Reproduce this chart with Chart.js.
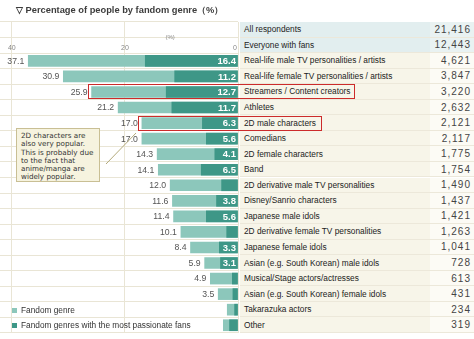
<!DOCTYPE html>
<html>
<head>
<meta charset="utf-8">
<script src="https://cdn.jsdelivr.net/npm/chart.js@4"></script>
<style>
  html, body { margin: 0; padding: 0; background: #fff; }
  #wrap { position: relative; width: 474px; height: 339px; overflow: hidden; font-family: "Liberation Sans", Arial, sans-serif; }
  #chart { position: absolute; left: 0; top: 0; }
  .title { position: absolute; left: 16px; top: 4px; font-weight: bold; font-size: 9.3px; color: #3c3c3c; white-space: nowrap; }
  .row { position: absolute; left: 240px; width: 234px; box-sizing: border-box; border-bottom: 1px solid #ece8da; }
  .row .lab { position: absolute; left: 0; top: 0; bottom: 0; width: 190px; padding-left: 4px; box-sizing: border-box; font-size: 8.3px; color: #222; display: flex; align-items: center; white-space: nowrap; }
  .row .num { position: absolute; left: 190px; top: 0; bottom: 0; width: 44px; padding-right: 3px; box-sizing: border-box; font-size: 10px; letter-spacing: 1px; color: #444; display: flex; align-items: center; justify-content: flex-end; }
  .tick { position: absolute; font-size: 7px; color: #888; transform: translate(-50%, -50%); }
  .note { position: absolute; left: 16px; top: 128px; width: 84px; height: 54px; box-sizing: border-box; background: #f6f3df; border: 1px solid #c9bf94; padding: 3px 0 0 4px; font-family: "DejaVu Sans", Verdana, sans-serif; font-size: 7.2px; line-height: 8.3px; color: #333; }
  .redbox { position: absolute; border: 1.5px solid #cc2b2b; box-sizing: border-box; }
  .leg { position: absolute; left: 12px; font-size: 8.3px; color: #333; white-space: nowrap; }
  .leg i { display: inline-block; width: 5px; height: 5px; margin-right: 4px; vertical-align: 0px; }
</style>
</head>
<body>
<div id="wrap">
  <canvas id="chart" width="240" height="339"></canvas>
  <div class="title">▽ Percentage of people by fandom genre（%）</div>
</div>
<script>
const genres = [
  'All respondents',
  'Everyone with fans',
  'Real-life male TV personalities / artists',
  'Real-life female TV personalities / artists',
  'Streamers / Content creators',
  'Athletes',
  '2D male characters',
  'Comedians',
  '2D female characters',
  'Band',
  '2D derivative male TV personalities',
  'Disney/Sanrio characters',
  'Japanese male idols',
  '2D derivative female TV personalities',
  'Japanese female idols',
  'Asian (e.g. South Korean) male idols',
  'Musical/Stage actors/actresses',
  'Asian (e.g. South Korean) female idols',
  'Takarazuka actors',
  'Other'
];
const respondents = [21416, 12443, 4621, 3847, 3220, 2632, 2121, 2117, 1775, 1754, 1490, 1437, 1421, 1263, 1041, 728, 613, 431, 234, 319];
const fandomPct = [null, null, 37.1, 30.9, 25.9, 21.2, 17.0, 17.0, 14.3, 14.1, 12.0, 11.6, 11.4, 10.1, 8.4, 5.9, 4.9, 3.5, 1.9, 2.6];
const passionatePct = [null, null, 16.4, 11.2, 12.7, 11.7, 6.3, 5.6, 4.1, 6.5, 2.9, 3.8, 5.6, 2.0, 3.3, 3.1, 1.0, 0.9, 0.6, 1.5];
const xTicks = [40, 20, 0];
const highlighted = ['Streamers / Content creators', '2D male characters'];
const noteText = ['2D characters are', 'also very popular.', 'This is probably due', 'to the fact that', 'anime/manga are', 'widely popular.'];

const LIGHT = '#8cc7bb';
const DARK = '#3e9787';
const GRID = '#e9e5d5';

// value labels: total left of the light bar, passionate share in white inside the dark bar
const valueLabels = {
  id: 'valueLabels',
  afterDatasetsDraw(chart) {
    const ctx = chart.ctx;
    const dark = chart.getDatasetMeta(0).data;
    const light = chart.getDatasetMeta(1).data;
    ctx.save();
    ctx.textBaseline = 'middle';
    ctx.textAlign = 'right';
    fandomPct.forEach((v, i) => {
      if (v == null || v < 3) return;
      ctx.font = '8.7px "Liberation Sans", Arial, sans-serif';
      ctx.fillStyle = '#555';
      ctx.fillText(v.toFixed(1), light[i].x - 4, light[i].y + 0.5);
      const p = passionatePct[i];
      if (p >= 3) {
        ctx.font = 'bold 9.5px "Liberation Sans", Arial, sans-serif';
        ctx.fillStyle = '#fff';
        ctx.fillText(p.toFixed(1), dark[i].base - 1.5, dark[i].y + 0.5);
      }
    });
    ctx.restore();
  }
};

const chart = new Chart(document.getElementById('chart'), {
  type: 'bar',
  data: {
    labels: genres,
    datasets: [
      { label: 'Fandom genres with the most passionate fans', data: passionatePct, backgroundColor: DARK, order: 1, grouped: false, barThickness: 11 },
      { label: 'Fandom genre', data: fandomPct, backgroundColor: LIGHT, order: 2, grouped: false, barThickness: 11 }
    ]
  },
  options: {
    indexAxis: 'y',
    responsive: false,
    animation: false,
    devicePixelRatio: 1,
    layout: { padding: { top: 22, bottom: 6, left: 0, right: 2 } },
    plugins: { legend: { display: false }, tooltip: { enabled: false } },
    scales: {
      x: {
        reverse: true, min: 0, max: 42.1, position: 'top',
        afterBuildTicks: s => { s.ticks = xTicks.map(v => ({ value: v })); },
        ticks: { display: false },
        grid: { color: GRID, drawTicks: false },
        border: { display: false }
      },
      y: {
        ticks: { display: false },
        grid: { color: GRID, drawTicks: false, offset: true },
        border: { display: false }
      }
    }
  },
  plugins: [valueLabels]
});

// html overlay: table, ticks, note, highlights, legend
const wrap = document.getElementById('wrap');
const xs = chart.scales.x, ys = chart.scales.y;
const rowH = (chart.chartArea.bottom - chart.chartArea.top) / genres.length;

genres.forEach((g, i) => {
  const top = ys.getPixelForValue(i) - rowH / 2;
  const r = document.createElement('div');
  r.className = 'row';
  r.style.top = top + 'px';
  r.style.height = rowH + 'px';
  const lab = document.createElement('div');
  lab.className = 'lab';
  lab.textContent = g;
  lab.style.background = i < 2 ? '#e2eeef' : '#f7f5e9';
  const num = document.createElement('div');
  num.className = 'num';
  num.textContent = respondents[i].toLocaleString('en-US');
  num.style.background = i < 2 ? '#e9f2f2' : '#fcfbf5';
  r.appendChild(lab);
  r.appendChild(num);
  wrap.appendChild(r);
});

const tickY = ys.getPixelForValue(1) + 2;
xTicks.forEach(v => {
  const t = document.createElement('div');
  t.className = 'tick';
  t.textContent = v;
  t.style.left = Math.min(xs.getPixelForValue(v), 235) + 'px';
  t.style.top = tickY + 'px';
  wrap.appendChild(t);
});
const unit = document.createElement('div');
unit.className = 'tick';
unit.textContent = '(%)';
unit.style.fontSize = '6px';
unit.style.left = xs.getPixelForValue(12) + 'px';
unit.style.top = (ys.getPixelForValue(0) + 7) + 'px';
wrap.appendChild(unit);

const note = document.createElement('div');
note.className = 'note';
note.innerHTML = noteText.join('<br>');
wrap.appendChild(note);

const svgNS = 'http://www.w3.org/2000/svg';
const svg = document.createElementNS(svgNS, 'svg');
svg.setAttribute('width', 474);
svg.setAttribute('height', 339);
svg.style.position = 'absolute';
svg.style.left = '0';
svg.style.top = '0';
const line = document.createElementNS(svgNS, 'line');
line.setAttribute('x1', 106); line.setAttribute('y1', 164);
line.setAttribute('x2', 136); line.setAttribute('y2', 133);
line.setAttribute('stroke', '#b3aa7c'); line.setAttribute('stroke-width', 1);
svg.appendChild(line);
wrap.appendChild(svg);

const boxRight = { 'Streamers / Content creators': 355, '2D male characters': 322 };
highlighted.forEach(g => {
  const i = genres.indexOf(g);
  const b = document.createElement('div');
  b.className = 'redbox';
  const left = xs.getPixelForValue(fandomPct[i]) - 4;
  b.style.left = left + 'px';
  b.style.width = (boxRight[g] - left) + 'px';
  b.style.top = (ys.getPixelForValue(i) - 7.5) + 'px';
  b.style.height = '15px';
  wrap.appendChild(b);
});

[['Fandom genre', LIGHT, 18], ['Fandom genres with the most passionate fans', DARK, 19]].forEach(([txt, col, i]) => {
  const l = document.createElement('div');
  l.className = 'leg';
  l.innerHTML = '<i style="background:' + col + '"></i>' + txt;
  l.style.top = (ys.getPixelForValue(i) - 5) + 'px';
  wrap.appendChild(l);
});
</script>
</body>
</html>
